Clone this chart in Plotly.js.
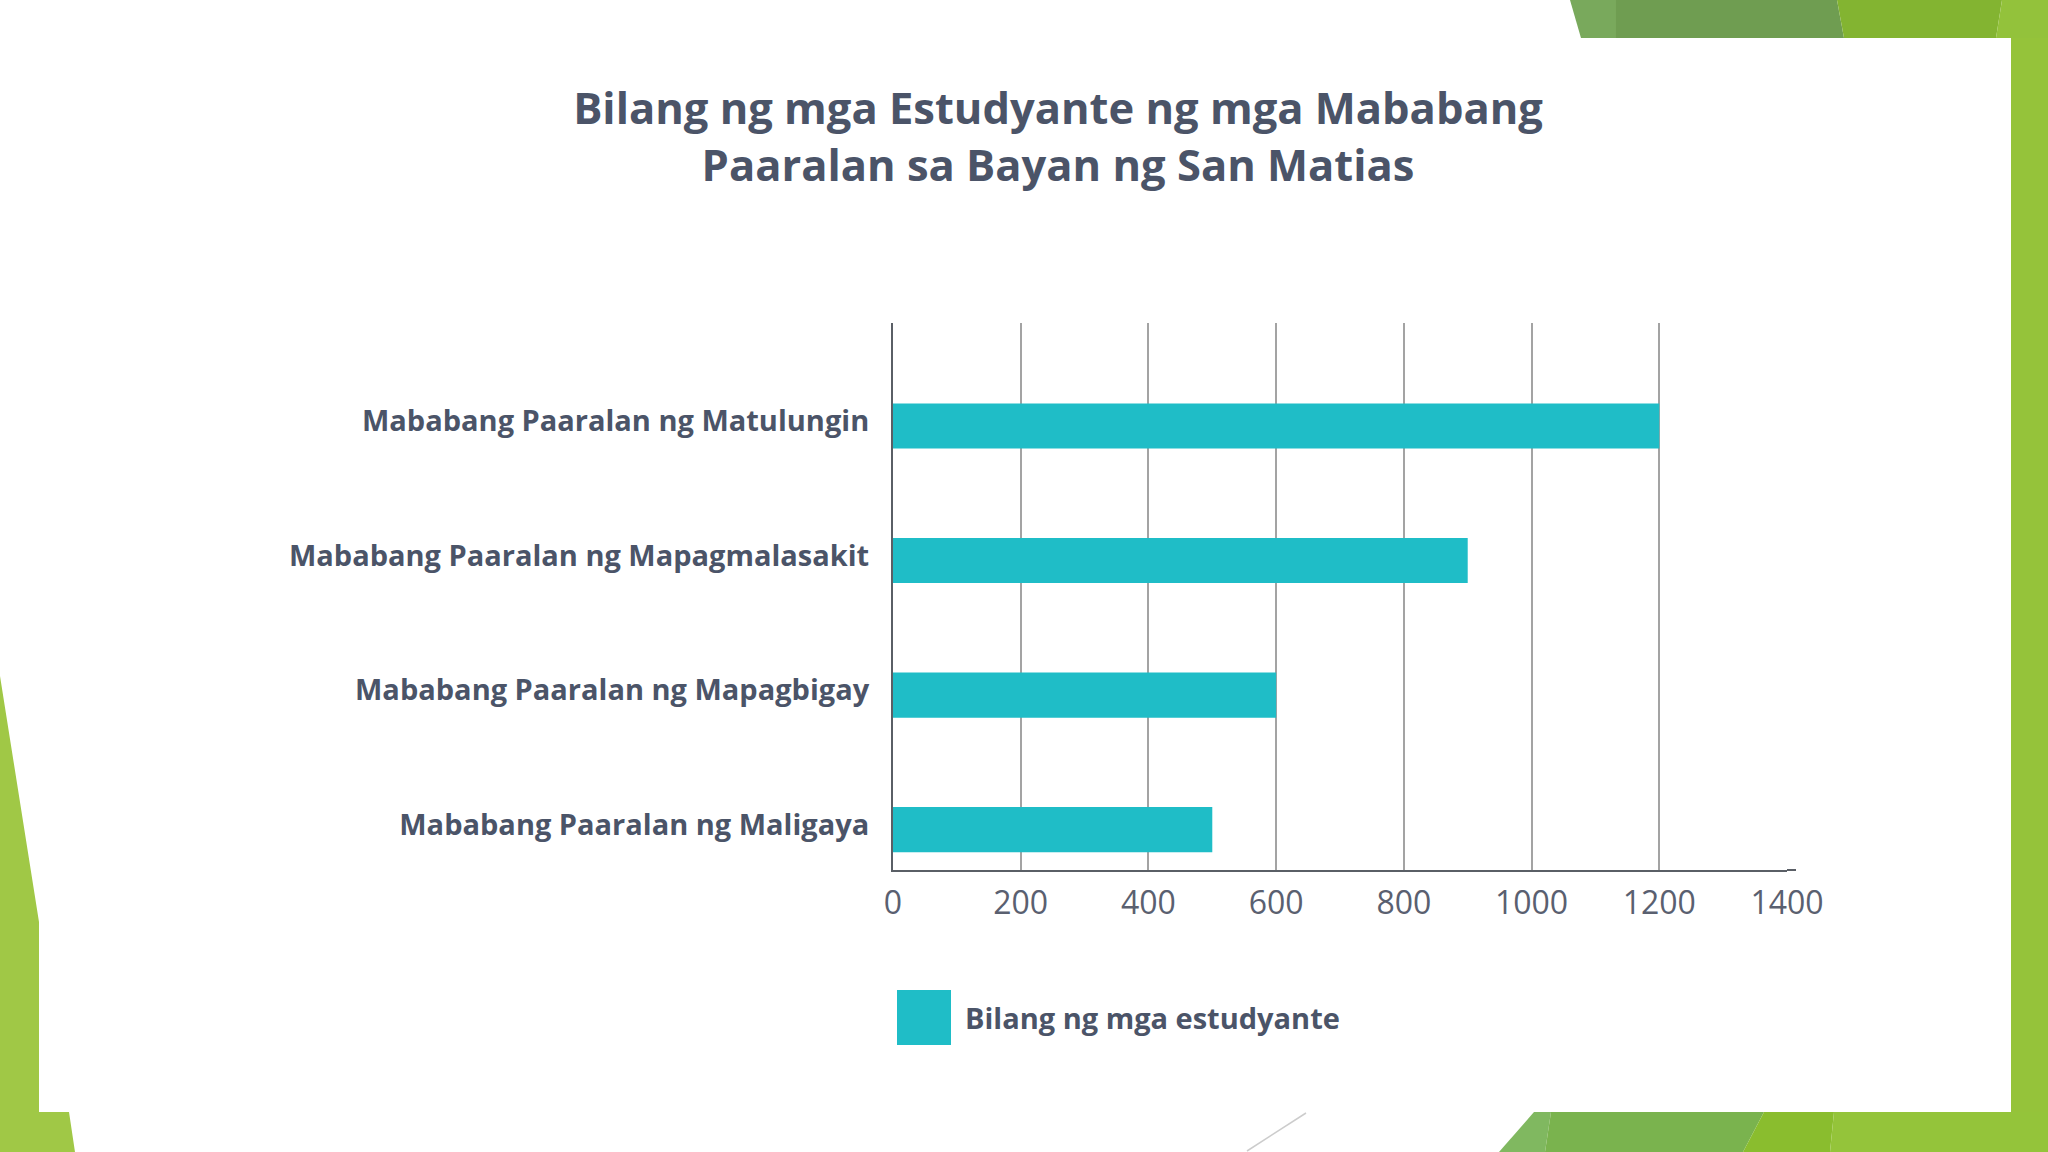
<!DOCTYPE html>
<html>
<head>
<meta charset="utf-8">
<script src="https://cdn.plot.ly/plotly-3.0.1.min.js"></script>
<style>
  html, body { margin: 0; padding: 0; background: #ffffff; }
  #chart { width: 2048px; height: 1152px; }
</style>
</head>
<body>
<div id="chart"></div>
<script>
// ---- Data ----
const categories = [
  "Mababang Paaralan ng Maligaya",
  "Mababang Paaralan ng Mapagbigay",
  "Mababang Paaralan ng Mapagmalasakit",
  "Mababang Paaralan ng Matulungin"
];
const students = [500, 600, 900, 1200];
const seriesName = "Bilang ng mga estudyante";
const xTicks = [0, 200, 400, 600, 800, 1000, 1200, 1400];
const chartTitle = "Bilang ng mga Estudyante ng mga Mababang<br>Paaralan sa Bayan ng San Matias";

// ---- Geometry (pixels) ----
const W = 2048, H = 1152;
const PL = 893, PR = 1787, PT = 323, PB = 870;
const px = x => (x - PL) / (PR - PL);
const py = y => (PB - y) / (PB - PT);
function poly(pts, color) {
  const d = pts.map((p, i) => (i ? "L" : "M") + px(p[0]).toFixed(5) + "," + py(p[1]).toFixed(5)).join(" ") + " Z";
  return { type: "path", xref: "paper", yref: "paper", path: d, fillcolor: color, line: { width: 0 }, layer: "below" };
}

const shapes = [
  // top band
  poly([[1570,0],[1616,0],[1616,38],[1581,38]], "#79a95c"),
  poly([[1616,0],[1837,0],[1844,38],[1616,38]], "#6f9d51"),
  poly([[1837,0],[2002,0],[1996,38],[1844,38]], "#83b431"),
  poly([[2002,0],[2048,0],[2048,38],[1996,38]], "#93c23b"),
  // right strip
  poly([[2011,38],[2048,38],[2048,1112],[2011,1112]], "#95c33a"),
  // bottom band
  poly([[1534,1112],[1551,1112],[1545,1152],[1499,1152]], "#80b860"),
  poly([[1551,1112],[1764,1112],[1743,1152],[1545,1152]], "#7ab34e"),
  poly([[1764,1112],[1834,1112],[1830,1152],[1743,1152]], "#8abd2e"),
  poly([[1834,1112],[2048,1112],[2048,1152],[1830,1152]], "#94c43a"),
  // left strip
  poly([[0,676],[39,922],[39,1112],[69,1112],[75,1152],[0,1152]], "#a0c846"),
  // thin diagonal line
  { type: "line", xref: "paper", yref: "paper", x0: px(1247), y0: py(1151), x1: px(1306), y1: py(1113),
    line: { color: "#cccccc", width: 1.5 } },
  // x-axis line extension
  { type: "line", xref: "paper", yref: "paper", x0: 1, y0: 0, x1: px(1796), y1: 0,
    line: { color: "#5a5f66", width: 2 } },
  // legend swatch
  { type: "rect", xref: "paper", yref: "paper", x0: px(897), x1: px(951), y0: py(1045), y1: py(990),
    fillcolor: "#1fbdc7", line: { width: 0 } }
];

const trace = {
  type: "bar",
  orientation: "h",
  y: categories,
  x: students,
  name: seriesName,
  width: 0.335,
  marker: { color: "#1fbdc7", line: { width: 0 } },
  hoverinfo: "x+y"
};

const layout = {
  width: W,
  height: H,
  paper_bgcolor: "#ffffff",
  plot_bgcolor: "#ffffff",
  showlegend: false,
  margin: { l: PL, r: W - PR, t: PT, b: H - PB, pad: 0 },
  font: { family: "Open Sans, sans-serif", color: "#4b5468" },
  title: {
    text: chartTitle,
    font: { family: "Open Sans, sans-serif", size: 43.5, color: "#4b5468", weight: 700 },
    x: 1058 / W,
    xanchor: "center",
    y: 1 - 124 / H,
    yanchor: "top",
    xref: "container",
    yref: "container"
  },
  xaxis: {
    range: [0, 1400],
    tickvals: xTicks,
    ticktext: xTicks.map(String),
    showgrid: true,
    gridcolor: "#a3a3a3",
    gridwidth: 2,
    zeroline: false,
    showline: true,
    linecolor: "#5a5f66",
    linewidth: 2,
    ticks: "",
    tickfont: { family: "Open Sans, sans-serif", size: 32, color: "#5a6070" },
    ticklabelstandoff: 4,
    fixedrange: true
  },
  yaxis: {
    type: "category",
    range: [-0.30, 3.766],
    showgrid: false,
    zeroline: false,
    showline: true,
    linecolor: "#5a5f66",
    linewidth: 2,
    ticks: "",
    tickfont: { family: "Open Sans, sans-serif", size: 29, color: "#4b5468", weight: 700 },
    ticklabelstandoff: 16,
    ticklabelshift: -5,
    fixedrange: true
  },
  shapes: shapes,
  annotations: [
    {
      xref: "paper", yref: "paper",
      x: px(963), y: py(1017),
      xanchor: "left", yanchor: "middle",
      text: seriesName,
      showarrow: false,
      font: { family: "Open Sans, sans-serif", size: 29, color: "#4b5468", weight: 700 }
    }
  ]
};

Plotly.newPlot("chart", [trace], layout, { displayModeBar: false, staticPlot: true });
</script>
</body>
</html>
